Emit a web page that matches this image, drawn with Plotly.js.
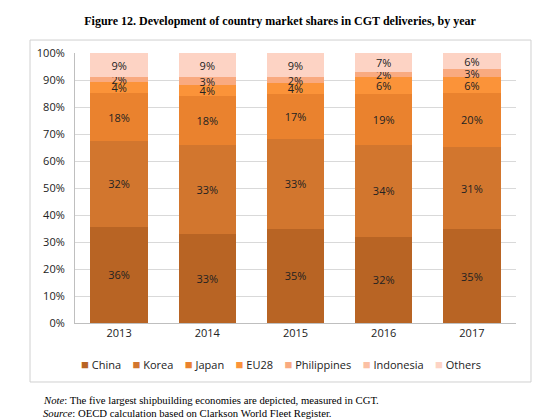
<!DOCTYPE html>
<html>
<head>
<meta charset="utf-8">
<script src="https://cdn.plot.ly/plotly-3.0.1.min.js"></script>
<style>html,body{margin:0;padding:0;background:#fff;}#chart{width:555px;height:420px;}</style>
</head>
<body>
<div id="chart"></div>
<script>
const years = ['2013', '2014', '2015', '2016', '2017'];
const seriesNames = ['China', 'Korea', 'Japan', 'EU28', 'Philippines', 'Indonesia', 'Others'];
const china = [36, 33, 35, 32, 35];
const korea = [32, 33, 33, 34, 31];
const japan = [18, 18, 17, 19, 20];
const eu28 = [4, 4, 4, 6, 6];
const philippines = [2, 3, 2, 2, 3];
const indonesia = [0, 0, 0, 0, 0];
const others = [9, 9, 9, 7, 6];
const colors = ['#B86424', '#D2762E', '#EA822E', '#FB9339', '#F9AA80', '#FBC0A4', '#FDD3C4'];
const showLabels = [true, true, true, true, true, false, true];

const allValues = [china, korea, japan, eu28, philippines, indonesia, others];

const traces = allValues.map((vals, i) => ({
  type: 'bar',
  name: seriesNames[i],
  x: years,
  y: vals,
  marker: {color: colors[i], line: {width: 0}},
  text: showLabels[i] ? vals.map(v => v + '%') : vals.map(() => ''),
  textposition: 'inside',
  insidetextanchor: 'middle',
  constraintext: 'none',
  textfont: {family: 'Open Sans, sans-serif', size: 11, color: '#222'},
  hoverinfo: 'skip',
  showlegend: false
}));

// Legend drawn as one line of real text, built from the series names and colours
const sep = '\u00a0\u00a0\u00a0\u00a0';
const legendText = seriesNames.map((n, i) =>
  '<span style="color:' + colors[i] + ';font-size:13px">\u25A0</span>\u00a0' + n
).join(sep);

const layout = {
  width: 555,
  height: 420,
  barmode: 'stack',
  barnorm: 'percent',
  bargap: 0.35,
  paper_bgcolor: '#fff',
  plot_bgcolor: '#fff',
  margin: {l: 75, r: 39, t: 53, b: 97},
  title: {
    text: '<b>Figure 12. Development of country market shares in CGT deliveries, by year</b>',
    font: {family: 'Liberation Serif, Times New Roman, serif', size: 12, color: '#000'},
    x: 0.465, xanchor: 'center', y: 0.951, yanchor: 'middle', xref: 'paper'
  },
  xaxis: {
    type: 'category',
    showgrid: false,
    showline: true,
    linecolor: '#bfbfbf',
    linewidth: 1,
    ticks: '',
    tickfont: {family: 'Open Sans, sans-serif', size: 11, color: '#222'},
    fixedrange: true
  },
  yaxis: {
    range: [0, 100],
    dtick: 10,
    ticksuffix: '%',
    showgrid: true,
    gridcolor: '#d9d9d9',
    gridwidth: 1,
    showline: true,
    linecolor: '#bfbfbf',
    zeroline: false,
    ticks: '',
    ticklabelstandoff: 7,
    tickfont: {family: 'Open Sans, sans-serif', size: 11, color: '#222'},
    fixedrange: true
  },
  showlegend: false,
  shapes: [{
    type: 'rect', xref: 'paper', yref: 'paper',
    x0: -0.102, x1: 1.034, y0: -0.2185, y1: 1.048,
    line: {color: '#d0d0d0', width: 1}, fillcolor: 'rgba(0,0,0,0)', layer: 'below'
  }],
  annotations: [
    {
      xref: 'paper', yref: 'paper', x: 0.467, y: -0.152, xanchor: 'center', yanchor: 'middle',
      showarrow: false, align: 'left',
      text: legendText,
      font: {family: 'Open Sans, sans-serif', size: 11, color: '#222'}
    },
    {
      xref: 'paper', yref: 'paper', x: -0.077, y: -0.285, xanchor: 'left', yanchor: 'middle',
      showarrow: false, align: 'left',
      text: '<i>Note</i>: The five largest shipbuilding economies are depicted, measured in CGT.',
      font: {family: 'Liberation Serif, Times New Roman, serif', size: 10.7, color: '#000'}
    },
    {
      xref: 'paper', yref: 'paper', x: -0.077, y: -0.333, xanchor: 'left', yanchor: 'middle',
      showarrow: false, align: 'left',
      text: '<i>Source</i>: OECD calculation based on Clarkson World Fleet Register.',
      font: {family: 'Liberation Serif, Times New Roman, serif', size: 10.7, color: '#000'}
    }
  ]
};

Plotly.newPlot('chart', traces, layout, {displayModeBar: false, staticPlot: true});
</script>
</body>
</html>
